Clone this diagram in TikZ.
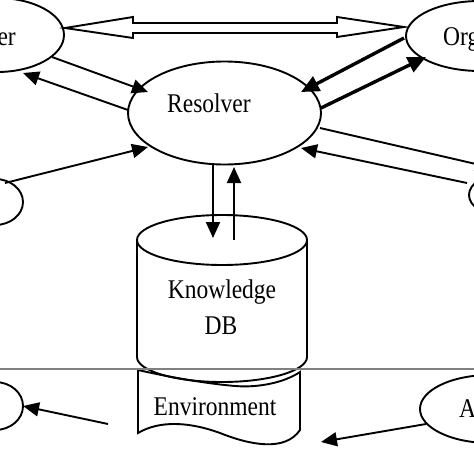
\documentclass[tikz,border=0pt]{standalone}
\usepackage{fontspec}
\usepackage{graphicx}
\setmainfont{Liberation Serif}
\usetikzlibrary{arrows.meta,shapes.geometric}
\newcommand{\dtext}[1]{\scalebox{1}[1.15]{#1}}
\begin{document}
\begin{tikzpicture}[x=1pt,y=-1pt,
  outl/.style={draw=black,line width=1.9pt},
  ell/.style={ellipse,draw=black,line width=1.9pt,inner sep=0pt},
  lbl/.style={inner sep=0pt,font=\fontsize{23.5}{28}\selectfont},
  arr/.style={line width=1.9pt,-{Triangle[length=16pt,width=14pt]}},
  tarr/.style={line width=3.4pt,-{Triangle[length=18pt,width=16pt]}},
  sep/.style={draw=black!50,line width=2.6pt}]
\useasboundingbox (0,0) rectangle (474,474);
% ellipses
\node[ell,minimum width=134pt,minimum height=74pt] (plan) at (-3,35) {};
\node[ell,minimum width=193pt,minimum height=103pt] (res) at (224.5,113) {};
\node[ell,minimum width=148pt,minimum height=70pt] (org) at (480,36) {};
\node[ell,minimum width=56pt,minimum height=46pt] (lm) at (-5,202) {};
\node[ell,minimum width=62pt,minimum height=40pt] (rm) at (500,195) {};
\node[ell,minimum width=56pt,minimum height=48pt] (lb) at (-5,406) {};
\node[ell,minimum width=140pt,minimum height=68pt] (rb) at (490,409) {};
% labels
\node[lbl,anchor=base east] (tplan) at (16,45) {\dtext{er}};
\node[lbl,anchor=base west] (torg) at (443,45) {\dtext{Org}};
\node[lbl,anchor=base west] (tres) at (167,112) {\dtext{Resolver}};
\node[lbl,anchor=base] (tkn) at (222,298) {\dtext{Knowledge}};
\node[lbl,anchor=base] (tdb) at (221,334) {\dtext{DB}};
\node[lbl,anchor=base] (tenv) at (215,415) {\dtext{Environment}};
\node[lbl,anchor=base west] (trb) at (459,417) {\dtext{A}};
% cylinder
\draw[outl] (222,240) ellipse [x radius=85, y radius=25];
\draw[outl] (137,240) -- (137,357) arc[start angle=180,end angle=0,x radius=85,y radius=25] -- (307,240);
% environment tape
\draw[outl] (138,370) -- (138,433) .. controls (160,420) and (190,422) .. (220,433)
  .. controls (250,445) and (285,452) .. (300,430) -- (300,372)
  .. controls (285,382) and (260,388) .. (235,386)
  .. controls (200,383) and (160,375) .. (138,370) -- cycle;
% hollow double arrow
\coordinate (hl) at (65,28);
\coordinate (hr) at (404,27);
\draw[outl,line join=miter] (hl) -- (133,17) -- (133,23) -- (337,23) -- (337,17) -- (hr)
  -- (337,37) -- (337,33) -- (133,33) -- (133,38) -- cycle;
% connector end points
\coordinate (p1) at (52,57);   \coordinate (r1) at (148,92);
\coordinate (r2) at (128,110); \coordinate (p2) at (23,73);
\coordinate (l1) at (5,183);   \coordinate (r3) at (148,147);
\coordinate (o1) at (404,38);  \coordinate (r4) at (301,92);
\coordinate (r5) at (321,108); \coordinate (o2) at (426,57);
\coordinate (r6) at (320,128); \coordinate (m1) at (491,167.5);
\coordinate (m2) at (467,183); \coordinate (r7) at (301,148);
\coordinate (r8) at (213,165); \coordinate (k1) at (213,238);
\coordinate (k2) at (234,240); \coordinate (r9) at (234,167);
\coordinate (e1) at (108,424); \coordinate (b1) at (23,406);
\coordinate (b2) at (426,424); \coordinate (e2) at (321,442);
\draw[arr] (p1) -- (r1);
\draw[arr] (r2) -- (p2);
\draw[arr] (l1) -- (r3);
\draw[tarr] (o1) -- (r4);
\draw[tarr] (r5) -- (o2);
\draw[arr] (r6) -- (m1);
\draw[arr] (m2) -- (r7);
\draw[arr] (r8) -- (k1);
\draw[arr] (k2) -- (r9);
\draw[arr] (e1) -- (b1);
\draw[arr] (b2) -- (e2);
% separator
\draw[sep] (0,369) -- (474,369);
\end{tikzpicture}
\end{document}
